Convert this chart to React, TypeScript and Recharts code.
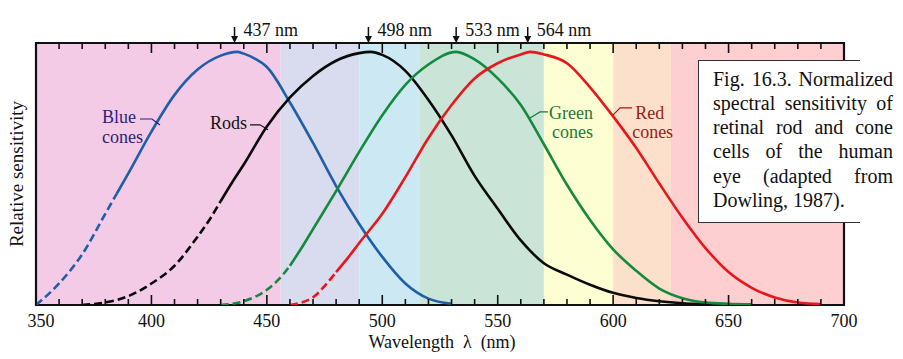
import { LineChart, Line, XAxis, YAxis, ReferenceArea, ReferenceDot } from 'recharts';

const W = 903;
const H = 359;
const PLOT = { left: 36, top: 43, right: 844, bottom: 305 };
const Y_MAX = 1.035;
const SERIF = '"Liberation Serif", "Times New Roman", serif';

// wavelength ticks (nm)
const TICKS = [
  350, 360, 370, 380, 390, 400, 410, 420, 430, 440, 450, 460, 470, 480, 490, 500, 510, 520,
  530, 540, 550, 560, 570, 580, 590, 600, 610, 620, 630, 640, 650, 660, 670, 680, 690, 700,
];

// spectrum colour bands behind the curves
const BAND_EDGES = [350, 456, 490, 516, 570, 600, 625, 700];
const BAND_COLORS = ['#f3cbe7', '#d9dbee', '#cce9f3', '#cae4d7', '#fefed3', '#fde0cb', '#fdcfd0'];

// blue cones
const BLUE_NM = [350, 360, 370, 380, 385, 390, 400, 410, 420, 430, 437, 440, 445, 450, 460, 470, 480, 490, 500, 510, 520, 530];
const BLUE_VAL = [0, 0.085, 0.2, 0.36, 0.44, 0.52, 0.685, 0.83, 0.93, 0.985, 1.0, 0.993, 0.972, 0.94, 0.8, 0.64, 0.47, 0.32, 0.19, 0.085, 0.025, 0.005];

// rods
const ROD_NM = [370, 380, 390, 400, 410, 420, 425, 430, 435, 440, 450, 460, 470, 480, 490, 495, 500, 510, 520, 530, 540, 550, 560, 570, 580, 590, 600, 610, 620, 630, 640, 650];
const ROD_VAL = [0, 0.01, 0.035, 0.085, 0.155, 0.27, 0.335, 0.41, 0.485, 0.555, 0.705, 0.82, 0.905, 0.965, 0.995, 1.0, 0.988, 0.925, 0.81, 0.67, 0.51, 0.38, 0.255, 0.165, 0.12, 0.08, 0.048, 0.028, 0.015, 0.007, 0.003, 0];

// green cones
const GREEN_NM = [430, 440, 450, 455, 460, 465, 470, 480, 490, 500, 510, 520, 532, 540, 550, 560, 570, 580, 590, 600, 610, 620, 630, 640, 650, 660];
const GREEN_VAL = [0, 0.015, 0.06, 0.1, 0.155, 0.225, 0.3, 0.45, 0.605, 0.75, 0.87, 0.95, 1.0, 0.97, 0.895, 0.79, 0.635, 0.475, 0.336, 0.22, 0.135, 0.065, 0.027, 0.01, 0.005, 0.003];

// red cones
const RED_NM = [460, 470, 475, 480, 485, 490, 500, 510, 520, 530, 540, 550, 560, 564, 570, 580, 590, 600, 610, 620, 630, 640, 650, 660, 670, 680, 690];
const RED_VAL = [0, 0.03, 0.075, 0.13, 0.185, 0.245, 0.36, 0.505, 0.66, 0.79, 0.895, 0.955, 0.99, 1.0, 0.99, 0.955, 0.86, 0.745, 0.62, 0.48, 0.345, 0.225, 0.13, 0.068, 0.03, 0.01, 0.004];

// peak markers above the frame
const PEAK_NM = [436, 494, 532, 563];
const PEAK_TEXT = ['437 nm', '498 nm', '533 nm', '564 nm'];

// curve name tags: anchor point on the curve
const TAG_NM = [403.7, 450.5, 564, 600];
const TAG_VAL = [0.711, 0.692, 0.739, 0.751];
const TAG_TEXT = [['Blue', 'cones'], ['Rods'], ['Green', 'cones'], ['Red', 'cones']];

const CAPTION = [
  'Fig. 16.3. Normalized',
  'spectral sensitivity of',
  'retinal rod and cone',
  'cells of the human',
  'eye (adapted from',
  'Dowling, 1987).',
];

const SERIES = [
  { key: 'blue', nm: BLUE_NM, val: BLUE_VAL, dashTo: 385, color: '#1f5ea8' },
  { key: 'rod', nm: ROD_NM, val: ROD_VAL, dashTo: 430, color: '#0a0a0a' },
  { key: 'green', nm: GREEN_NM, val: GREEN_VAL, dashTo: 460, color: '#138a3c' },
  { key: 'red', nm: RED_NM, val: RED_VAL, dashTo: 480, color: '#e8171c' },
];

const TAG_STYLE = [
  { color: '#2b1f7f', leader: '-20,-6 -8,-6 0,0', lines: [[-58, -2], [-58, 18]] },
  { color: '#111', leader: '-18,-5 -8,-5 0,0', lines: [[-58, -1]] },
  { color: '#1d7a33', leader: '0,0 10,-6 18,-6', lines: [[19, 1], [22, 20]] },
  { color: '#9b1a1a', leader: '0,0 7,-7 19,-7', lines: [[22, 4], [19, 23]] },
];

function WaveTick(props: any) {
  const { x, y, payload } = props;
  const v = payload.value as number;
  const major = v % 50 === 0;
  const len = major ? 10 : 6;
  const top = y - (PLOT.bottom - PLOT.top);
  return (
    <g>
      <line x1={x} x2={x} y1={y} y2={y - len} stroke="#111" strokeWidth={1.6} />
      <line x1={x} x2={x} y1={top} y2={top + len} stroke="#111" strokeWidth={1.6} />
      {major && (
        <text x={v === 350 ? x + 5 : x} y={y + 22} textAnchor="middle" fontSize={18} fontFamily={SERIF} fill="#111">
          {v}
        </text>
      )}
    </g>
  );
}

function PeakArrow({ cx, cy, text }: any) {
  return (
    <g>
      <line x1={cx} x2={cx} y1={cy - 16} y2={cy - 5} stroke="#111" strokeWidth={1.5} />
      <path d={`M${cx - 3.5},${cy - 7} L${cx + 3.5},${cy - 7} L${cx},${cy} Z`} fill="#111" />
      <text x={cx + 9} y={cy - 7} fontSize={18} fontFamily={SERIF} fill="#111">
        {text}
      </text>
    </g>
  );
}

function CurveTag({ cx, cy, idx }: any) {
  const st = TAG_STYLE[idx];
  const pts = st.leader
    .split(' ')
    .map((p) => p.split(',').map(Number))
    .map(([dx, dy]) => `${cx + dx},${cy + dy}`)
    .join(' ');
  return (
    <g>
      <polyline points={pts} fill="none" stroke={st.color} strokeWidth={1.2} />
      {TAG_TEXT[idx].map((t, i) => (
        <text key={t} x={cx + st.lines[i][0]} y={cy + st.lines[i][1]} fontSize={18} fontFamily={SERIF} fill={st.color}>
          {t}
        </text>
      ))}
    </g>
  );
}

function pointsOf(nm: number[], val: number[]) {
  return nm.map((x, i) => ({ nm: x, v: val[i] }));
}

export default function App() {
  return (
    <div style={{ position: 'absolute', left: 0, top: 0, width: W, height: H, background: '#fff', fontFamily: SERIF }}>
      <LineChart
        width={W}
        height={H}
        margin={{ top: PLOT.top, right: W - PLOT.right, bottom: H - PLOT.bottom - 30, left: PLOT.left }}
      >
        <XAxis
          dataKey="nm"
          type="number"
          domain={[350, 700]}
          ticks={TICKS}
          interval={0}
          height={30}
          axisLine={false}
          tickLine={false}
          tickSize={0}
          tickMargin={0}
          tick={<WaveTick />}
          allowDataOverflow
        />
        <YAxis hide type="number" domain={[0, Y_MAX]} allowDataOverflow />
        {BAND_COLORS.map((c, i) => (
          <ReferenceArea
            key={c}
            x1={BAND_EDGES[i]}
            x2={BAND_EDGES[i + 1]}
            y1={0}
            y2={Y_MAX}
            fill={c}
            fillOpacity={1}
            stroke="none"
          />
        ))}
        {SERIES.map((s) => {
          const pts = pointsOf(s.nm, s.val);
          return [
            <Line
              key={s.key + '-dash'}
              data={pts.filter((p) => p.nm <= s.dashTo)}
              dataKey="v"
              type="monotone"
              stroke={s.color}
              strokeWidth={2.6}
              strokeDasharray="8 4"
              dot={false}
              activeDot={false}
              isAnimationActive={false}
            />,
            <Line
              key={s.key + '-solid'}
              data={pts.filter((p) => p.nm >= s.dashTo)}
              dataKey="v"
              type="monotone"
              stroke={s.color}
              strokeWidth={2.6}
              dot={false}
              activeDot={false}
              isAnimationActive={false}
            />,
          ];
        })}
        <ReferenceArea x1={350} x2={700} y1={0} y2={Y_MAX} fill="none" stroke="#111" strokeWidth={2.2} ifOverflow="visible" />
        {PEAK_NM.map((x, i) => (
          <ReferenceDot
            key={'peak' + x}
            x={x}
            y={Y_MAX}
            r={0}
            ifOverflow="visible"
            shape={(p: any) => <PeakArrow cx={p.cx} cy={p.cy} text={PEAK_TEXT[i]} />}
          />
        ))}
        {TAG_NM.map((x, i) => (
          <ReferenceDot
            key={'tag' + x}
            x={x}
            y={TAG_VAL[i]}
            r={0}
            ifOverflow="visible"
            shape={(p: any) => <CurveTag cx={p.cx} cy={p.cy} idx={i} />}
          />
        ))}
      </LineChart>

      <div
        style={{
          position: 'absolute',
          left: 17,
          top: (PLOT.top + PLOT.bottom) / 2,
          transform: 'translate(-50%, -50%) rotate(-90deg)',
          whiteSpace: 'nowrap',
          fontSize: 19,
          color: '#111',
        }}
      >
        Relative sensitivity
      </div>
      <div
        style={{
          position: 'absolute',
          left: 442,
          top: 332,
          transform: 'translateX(-50%)',
          whiteSpace: 'pre',
          fontSize: 18,
          lineHeight: '20px',
          color: '#111',
        }}
      >
        {'Wavelength  λ  (nm)'}
      </div>

      <div style={{ position: 'absolute', left: 698, top: 60, width: W - 698, height: 163, background: '#fff' }}>
        <div
          style={{
            position: 'absolute',
            left: 0,
            top: 0,
            width: 162,
            height: 163,
            boxSizing: 'border-box',
            borderLeft: '1.5px solid #333',
            borderTop: '1.5px solid #333',
            borderBottom: '1.5px solid #333',
          }}
        />
        <div style={{ position: 'absolute', left: 15, top: 6.8, width: 180, fontSize: 20, lineHeight: '24.2px', color: '#111' }}>
          {CAPTION.map((line, i) => (
            <div
              key={line}
              style={{
                whiteSpace: 'nowrap',
                textAlign: i < CAPTION.length - 1 ? 'justify' : 'left',
                textAlignLast: i < CAPTION.length - 1 ? 'justify' : 'left',
              }}
            >
              {line}
            </div>
          ))}
        </div>
      </div>
    </div>
  );
}
